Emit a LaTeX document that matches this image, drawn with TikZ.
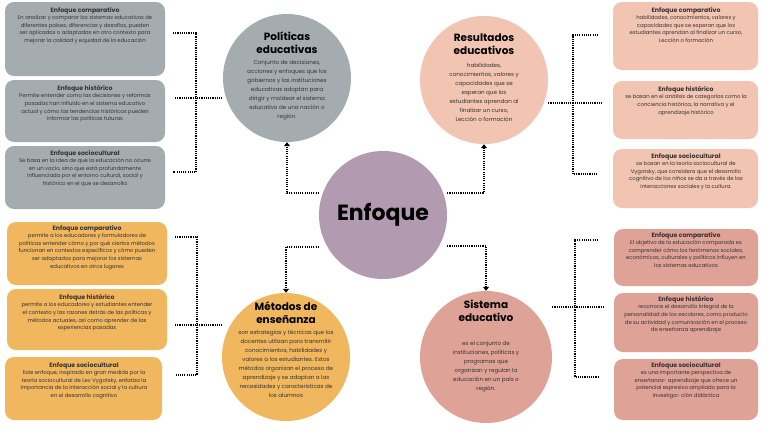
\documentclass[tikz,border=0pt]{standalone}
\usepackage{fontspec}
\setmainfont{Poppins}
\usetikzlibrary{arrows.meta}
\definecolor{cgray}{HTML}{A5ACB0}
\definecolor{cpeach}{HTML}{F2C5B2}
\definecolor{cenf}{HTML}{B29BB0}
\definecolor{corange}{HTML}{F0B75E}
\definecolor{crose}{HTML}{DFA297}
\tikzset{
  box/.style={rounded corners=9pt,inner sep=2pt,align=center,font=\fontsize{5.3}{7.6}\selectfont,text=black!80},
  circ/.style={circle,minimum size=128pt,inner sep=0pt},
  ctitle/.style={font=\bfseries\fontsize{10.5}{13}\selectfont},
  ctext/.style={font=\fontsize{5.6}{9}\selectfont,align=center,text=black!80},
  dots/.style={line width=1.3pt,dash pattern=on 1.1pt off 1.1pt},
  arr/.style={dots,-{Triangle[width=6pt,length=4pt]}}
}
\newcommand{\bx}[6]{%
  \fill[#6,rounded corners=9pt] (#2,#3) rectangle (#4,#5);
  \coordinate (#1) at ({(#2+#4)/2},{(#3+#5)/2});
}
\begin{document}
\begin{tikzpicture}[x=1pt,y=-1pt]
\useasboundingbox (0,0) rectangle (768,431);
\fill[white] (0,0) rectangle (768,431);
% ---------- gray boxes
\bx{g1}{5}{2}{165}{76}{cgray}
\bx{g2}{5}{80}{165}{142}{cgray}
\bx{g3}{5}{146}{165}{209}{cgray}
\node[box,anchor=north] (g1t) at (85,5) {{\bfseries\fontsize{6.2}{9}\selectfont Enfoque comparativo}\\En analizar y comparar los sistemas educativos de\\diferentes países, diferencias y desafíos, pueden\\ser aplicadas o adaptadas en otro contexto para\\mejorar la calidad y equidad de la educación};
\node[box,anchor=north] (g2t) at (85,83) {{\bfseries\fontsize{6.2}{7}\selectfont Enfoque histórico}\\Permite entender como las decisiones y reformas\\pasadas han influido en el sistema educativo\\actual y cómo las tendencias históricas pueden\\informar las políticas futuras};
\node[box,anchor=north] (g3t) at (85,148) {{\bfseries\fontsize{6.2}{9}\selectfont Enfoque sociocultural}\\Se basa en la idea de que la educación no ocurre\\en un vacío, sino que está profundamente\\influenciada por el entorno cultural, social y\\histórico en el que se desarrolla};
% ---------- peach boxes
\bx{p1}{613}{2}{758}{70}{cpeach}
\bx{p2}{613}{81}{758}{139}{cpeach}
\bx{p3}{613}{149}{758}{208}{cpeach}
\node[box,anchor=north] (p1t) at (686,5) {{\bfseries\fontsize{6.2}{9}\selectfont Enfoque comparativo}\\habilidades, conocimientos, valores y\\capacidades que se esperan que los\\estudiantes aprendan al finalizar un curso,\\Lección o formación};
\node[box,anchor=north] (p2t) at (686,84) {{\bfseries\fontsize{6.2}{9}\selectfont Enfoque histórico}\\se basan en el análisis de categorías como la\\conciencia histórica, la narrativa y el\\aprendizaje histórico};
\node[box,anchor=north] (p3t) at (686,151) {{\bfseries\fontsize{6.2}{7}\selectfont Enfoque sociocultural}\\se basan en la teoría sociocultural de\\Vygotsky, que considera que el desarrollo\\cognitivo de los niños se da a través de las\\interacciones sociales y la cultura.};
% ---------- orange boxes
\bx{o1}{7}{222}{167}{285}{corange}
\bx{o2}{7}{289}{167}{350}{corange}
\bx{o3}{5}{357}{162}{420}{corange}
\node[box,anchor=north] (o1t) at (87,223) {{\bfseries\fontsize{6.2}{7}\selectfont Enfoque comparativo}\\permite a los educadores y formuladores de\\políticas entender cómo y por qué ciertos métodos\\funcionan en contextos específicos y cómo pueden\\ser adaptados para mejorar los sistemas\\educativos en otros lugares};
\node[box,anchor=north] (o2t) at (87,292) {{\bfseries\fontsize{6.2}{7}\selectfont Enfoque histórico}\\permite a los educadores y estudiantes entender\\el contexto y las razones detrás de las políticas y\\métodos actuales, así como aprender de las\\experiencias pasadas};
\node[box,anchor=north] (o3t) at (84,360) {{\bfseries\fontsize{6.2}{7}\selectfont Enfoque sociocultural}\\Este enfoque, inspirado en gran medida por la\\teoría sociocultural de Lev Vygotsky, enfatiza la\\importancia de la interacción social y la cultura\\en el desarrollo cognitivo};
% ---------- rose boxes
\bx{r1}{614}{229}{758}{286}{crose}
\bx{r2}{614}{293}{758}{352}{crose}
\bx{r3}{614}{359}{758}{420}{crose}
\node[box,anchor=north] (r1t) at (686,230) {{\bfseries\fontsize{6.2}{7}\selectfont Enfoque comparativo}\\El objetivo de la educación comparada es\\comprender cómo los fenómenos sociales,\\económicos, culturales y políticos influyen en\\los sistemas educativos};
\node[box,anchor=north] (r2t) at (686,294) {{\bfseries\fontsize{6.2}{7}\selectfont Enfoque histórico}\\reconoce el desarrollo integral de la\\personalidad de los escolares, como producto\\de su actividad y comunicación en el proceso\\de enseñanza aprendizaje};
\node[box,anchor=north] (r3t) at (686,360) {{\bfseries\fontsize{6.2}{8}\selectfont Enfoque sociocultural}\\es una importante perspectiva de\\enseñanza- aprendizaje que ofrece un\\potencial expresivo ampliado para la\\investiga- ción didáctica};
% ---------- circles
\node[circ,fill=cenf] (E) at (383,215) {};
\node[font=\bfseries\fontsize{22}{24}\selectfont] (Et) at (383,215) {Enfoque};
\node[circ,fill=cgray] (P) at (287,78) {};
\node[ctitle,align=center,anchor=north] (Pt) at (287,28) {Políticas\\educativas};
\node[ctext,anchor=north] (Pb) at (287,57) {Conjunto de decisiones,\\acciones y enfoques que los\\gobiernos y las instituciones\\educativas adoptan para\\dirigir y moldear el sistema\\educativo de una nación o\\región.};
\node[circ,fill=cpeach] (R) at (484,80) {};
\node[ctitle,align=center,anchor=north] (Rt) at (484,30) {Resultados\\educativos};
\node[ctext,anchor=north] (Rb) at (484,60) {habilidades,\\conocimientos, valores y\\capacidades que se\\esperan que los\\estudiantes aprendan al\\finalizar un curso,\\Lección o formación};
\node[circ,fill=corange] (M) at (286,357) {};
\node[ctitle,align=center,anchor=north] (Mt) at (286,298) {Métodos de\\enseñanza};
\node[ctext,anchor=north] (Mb) at (286,327) {son estrategias y técnicas que los\\docentes utilizan para transmitir\\conocimientos, habilidades y\\valores a los estudiantes. Estos\\métodos organizan el proceso de\\aprendizaje y se adaptan a las\\necesidades y características de\\los alumnos};
\node[circ,minimum size=132pt,fill=crose] (S) at (486,357) {};
\node[ctitle,align=center,anchor=north] (St) at (486,297) {Sistema\\educativo};
\node[ctext,anchor=north] (Sb) at (486,338) {es el conjunto de\\instituciones, políticas y\\programas que\\organizan y regulan la\\educación en un país o\\región.};
% ---------- arrows from Enfoque
\draw[arr] (E.west |- 0,193) -| (P.south);
\draw[arr] (E.east |- 0,193) -| (R.south);
\draw[arr] (E.west |- 0,247) -| (M.north);
\draw[arr] (E.east |- 0,246) -| (S.north);
% ---------- connectors
\draw[dots] (173,33) -| (196,172) -- (173,172);
\draw[dots] (175,98) -- (P.west |- 0,98);
\draw[dots] (598,35) -| (573,174) -- (598,174);
\draw[dots] (R.east |- 0,103) -- (603,103);
\draw[dots] (175,237) -| (197,375) -- (175,375);
\draw[dots] (175,325) -- (M.west |- 0,325);
\draw[dots] (598,240) -| (575,377) -- (598,377);
\draw[dots] (S.east |- 0,307) -- (603,307);
\end{tikzpicture}
\end{document}
